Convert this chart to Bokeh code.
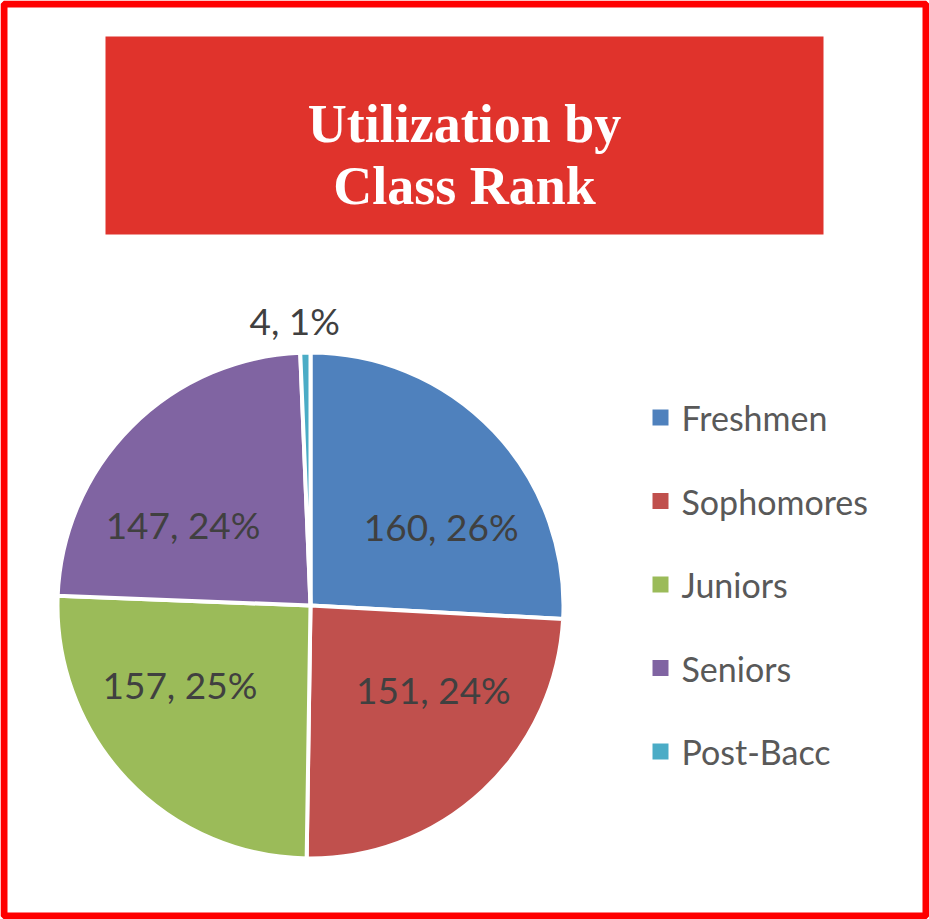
import numpy as np
from bokeh.plotting import figure
from bokeh.models import Range1d, ColumnDataSource
from bokeh.core.properties import value
from bokeh.embed import file_html
from bokeh.resources import INLINE

# ---- data ----
categories = ["Freshmen", "Sophomores", "Juniors", "Seniors", "Post-Bacc"]
counts = [160, 151, 157, 147, 4]
colors = ["#4F81BD", "#C0504D", "#9BBB59", "#8064A2", "#4BACC6"]
title_lines = ["Utilization by", "Class Rank"]

# ---- layout ----
W, H = 929, 919
CX, CY, R = 310, 314, 253

p = figure(width=W, height=H, x_range=Range1d(0, W), y_range=Range1d(0, H),
           output_backend="svg", toolbar_location=None,
           x_axis_location=None, y_axis_location=None, min_border=0)
p.grid.visible = False
p.outline_line_color = None
p.background_fill_color = "white"
p.border_fill_color = "white"

# outer red frame
p.quad(left=[3.5], right=[W - 3.5], bottom=[3.5], top=[H - 3.5],
       fill_color=None, line_color="#FF0000", line_width=7)

# title box
p.quad(left=[105], right=[823], bottom=[685], top=[883],
       fill_color="#E0332C", line_color=None)
p.text(x=[464, 464], y=[796, 734], text=title_lines,
       text_font=value("Liberation Serif"), text_font_style="bold",
       text_font_size="54px", text_color="white",
       text_align="center", text_baseline="alphabetic")

# pie
vals = np.array(counts, dtype=float)
frac = vals / vals.sum()
cum = np.cumsum(frac)
start_frac = cum - frac
start_angle = np.pi / 2 - 2 * np.pi * cum
end_angle = np.pi / 2 - 2 * np.pi * start_frac
mid = np.pi / 2 - 2 * np.pi * (start_frac + frac / 2)

src = ColumnDataSource(dict(start=start_angle, end=end_angle, color=colors, cat=categories))
p.wedge(x=CX, y=CY, radius=R, start_angle="start", end_angle="end",
        fill_color="color", line_color="white", line_width=4, source=src)

labels = [f"{c}, {round(100 * f)}%" for c, f in zip(counts, frac)]
lx, ly = [], []
for f, m in zip(frac, mid):
    if f < 0.03:
        ro = R + 32
        lx.append(CX + ro * np.cos(m) - 10)
        ly.append(CY + ro * np.sin(m))
    else:
        lx.append(CX + 180 * np.cos(m))
        ly.append(CY + 115 * np.sin(m))
p.text(x=lx, y=ly, text=labels, text_font=value("Lato"),
       text_font_size="37px", text_color="#404040",
       text_align="center", text_baseline="middle")

# legend (manual)
n = len(categories)
ly0, step = 502, 83.5
leg_y = [ly0 - i * step for i in range(n)]
p.rect(x=[660] * n, y=leg_y, width=16, height=16, fill_color=colors, line_color=None)
p.text(x=[681] * n, y=leg_y, text=categories, text_font=value("Lato"),
       text_font_size="34px", text_color="#595959",
       text_align="left", text_baseline="middle")

open("out.html", "w").write(file_html(p, INLINE))
